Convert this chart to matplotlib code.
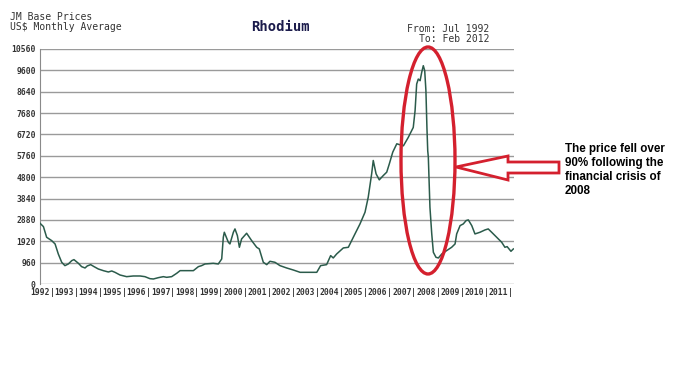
import numpy as np
import matplotlib
matplotlib.use("Agg")
import matplotlib.pyplot as plt
from matplotlib.patches import Ellipse, Polygon

# months since Jul 1992 and monthly average price (US$/oz)
months = [0, 1.7, 3.3, 5.8, 7.5, 9.1, 10.8, 12.4, 14.1, 15.8, 16.9, 19.1, 20.7, 22.4, 23.5,
          25.2, 26.9, 29.0, 31.5, 34.0, 35.7, 37.3, 39.8, 43.1, 46.4, 49.8, 52.2, 54.7, 56.4,
          58.9, 61.4, 63.0, 65.5, 68.0, 69.7, 73.0, 76.3, 78.8, 80.4, 82.1, 86.2, 88.7, 90.4,
          91.2, 91.7, 93.7, 94.5, 96.2, 97.0, 98.2, 99.2, 100.3, 102.8, 105.3, 107.8, 109.1,
          111.1, 112.8, 114.4, 116.9, 119.4, 122.7, 126.0, 129.4, 132.7, 137.7, 139.6, 142.6,
          144.6, 145.9, 147.6, 150.9, 153.4, 156.7, 159.2, 161.7, 163.3, 165.0, 165.8, 167.2,
          168.8, 170.8, 172.5, 173.8, 175.5, 177.5, 180.8, 183.2, 185.7, 186.6, 187.4, 188.2,
          189.1, 189.9, 190.7, 191.4, 192.0, 192.5, 192.9, 193.2, 194.0, 194.9, 195.7, 197.0,
          198.2, 199.9, 202.3, 204.8, 206.5, 207.3, 209.0, 210.6, 212.0, 213.1, 214.8, 216.4,
          218.9, 221.4, 223.0, 224.7, 227.2, 229.7, 231.3, 232.4, 234.3, 235.5]
prices = [2730, 2580, 2100, 1950, 1800, 1350, 975, 825, 900, 1050, 1095, 930, 780, 720, 810,
          870, 780, 675, 600, 540, 585, 525, 405, 330, 360, 360, 330, 240, 225,
          285, 330, 300, 330, 480, 600, 600, 600, 780, 825, 900, 930, 900, 1125,
          2100, 2325, 1875, 1800, 2325, 2475, 2175, 1650, 2025, 2280, 1950, 1650, 1575,
          975, 870, 1020, 975, 825, 720, 630, 525, 525, 525, 825, 870,
          1275, 1170, 1350, 1620, 1650, 2250, 2700, 3225, 3900, 4950, 5550, 4950,
          4680, 4875, 5025, 5400, 5925, 6300, 6210, 6585, 7035, 7785, 8985, 9210,
          9135, 9510, 9810, 9585, 8685, 7035, 5985, 5700, 3450, 2250, 1425, 1200,
          1170, 1350, 1500, 1650, 1800, 2250, 2625, 2700, 2850, 2880, 2625, 2250,
          2325, 2430, 2475, 2325, 2100, 1875, 1650, 1680, 1470, 1575]

years = list(range(1992, 2012))
yticks = list(range(0, 10561, 960))
note = "The price fell over\n90% following the\nfinancial crisis of\n2008"

W, H = 700, 379
PX_PER_MONTH = 2.01
fig = plt.figure(figsize=(7, 3.79), dpi=100)
fig.patch.set_facecolor("white")
ax = fig.add_axes([40 / W, 1 - 284 / H, 474 / W, 235 / H])

ax.plot(months, prices, color="#2b5b4b", lw=1.1, zorder=3)
ax.set_xlim(0, 474 / PX_PER_MONTH)
ax.set_ylim(0, 10560)

for v in yticks:
    ax.axhline(v, color="#9a9a9a", lw=1, zorder=1)
for s in ["top", "right", "bottom"]:
    ax.spines[s].set_visible(False)
ax.spines["left"].set_color("#8a8a8a")

tick_font = dict(fontsize=5.8, family="DejaVu Sans Mono", fontweight="bold", color="#333333")
ax.set_yticks(yticks)
ax.set_yticklabels([str(v) for v in yticks], **tick_font)
ax.tick_params(axis="y", length=0, pad=3)

# year labels with "|" separators in between
ax.set_xticks([12 * i for i in range(len(years))])
ax.set_xticklabels([str(y) for y in years], **tick_font)
ax.set_xticks([12 * i + 6 for i in range(len(years))], minor=True)
ax.set_xticklabels(["|"] * len(years), minor=True, **tick_font)
ax.tick_params(axis="x", which="both", length=0, pad=3)

# header texts
fig.text(10 / W, 1 - 32 / H, "JM Base Prices\nUS$ Monthly Average", fontsize=7,
         family="DejaVu Sans Mono", color="#333333", va="bottom", linespacing=1.0)
fig.text(280 / W, 1 - 27 / H, "Rhodium", fontsize=10, family="DejaVu Sans Mono",
         fontweight="bold", color="#1c1c4c", ha="center", va="center")
fig.text(489 / W, 1 - 44 / H, "From: Jul 1992\nTo: Feb 2012", fontsize=7,
         family="DejaVu Sans Mono", color="#333333", ha="right", va="bottom",
         linespacing=1.0)

# red ellipse around the 2008 peak and crash
ell = Ellipse((388 / PX_PER_MONTH, 5550), width=54 / PX_PER_MONTH, height=10200,
              fill=False, ec="#d4202e", lw=2.4, zorder=4, clip_on=False)
ax.add_patch(ell)

# hollow arrow pointing left at the ellipse
px = [(456, 167), (508, 156), (508, 162), (559, 162), (559, 173), (508, 173), (508, 180)]
arrow = Polygon([(x / W, 1 - y / H) for x, y in px], closed=True, fc="white",
                ec="#d4202e", lw=2.0, transform=fig.transFigure, zorder=5)
fig.patches.append(arrow)

fig.text(565 / W, 1 - 143 / H, note, fontsize=8.4, family="Liberation Sans",
         fontweight="bold", color="black", va="top", linespacing=1.22)

fig.savefig("out.png", dpi=100)
